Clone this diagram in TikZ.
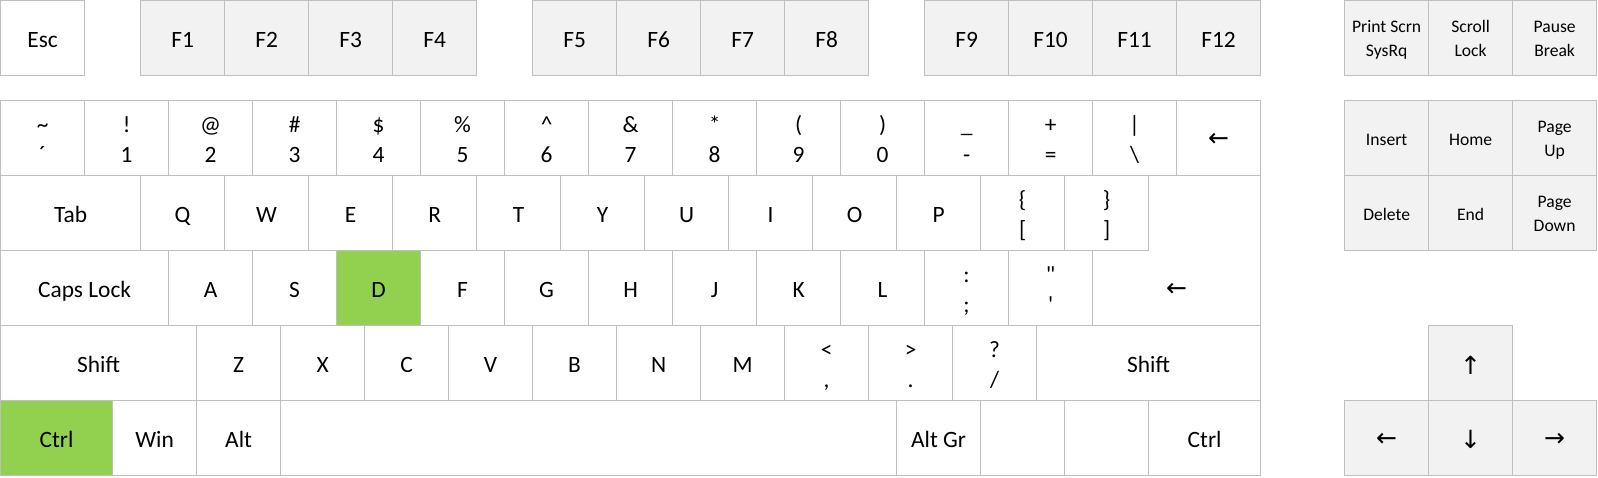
\documentclass[tikz,border=0pt]{standalone}
\usepackage{fontspec}
\setmainfont{Carlito}
\newfontfamily\arrowfont{DejaVu Sans}
\definecolor{kline}{HTML}{BFBFBF}
\definecolor{kgrey}{HTML}{F2F2F2}
\definecolor{kgreen}{HTML}{92D050}
\tikzset{
  x=0.5pt, y=-0.5pt,
  keyw/.style={draw=kline, fill=white, line width=0.6pt},
  keyg/.style={draw=kline, fill=kgrey, line width=0.6pt},
  keyn/.style={draw=kline, fill=kgreen, line width=0.6pt},
  bigtxt/.style={anchor=base, inner sep=0pt, font=\fontsize{11.7}{14}\selectfont},
  smalltxt/.style={anchor=base, inner sep=0pt, font=\fontsize{8.8}{10}\selectfont},
  arrtxt/.style={anchor=center, inner sep=0pt, font=\arrowfont\fontsize{12.5}{14}\selectfont},
}
% style, x1, y1, x2, y2, name, text
\newcommand\keyone[7]{%
  \draw[#1] (#2,#3) rectangle (#4,#5);
  \node[bigtxt] (#6) at ({(#2+#4)/2},{(#3+#5)/2+9.2}) {#7};}
% style, x1, y1, x2, y2, name, top, bottom
\newcommand\keytwo[8]{%
  \draw[#1] (#2,#3) rectangle (#4,#5);
  \node[bigtxt] (#6t) at ({(#2+#4)/2},{(#3+#5)/2-6}) {#7};
  \node[bigtxt] (#6b) at ({(#2+#4)/2},{(#3+#5)/2+24}) {#8};}
\newcommand\keysone[7]{%
  \draw[#1] (#2,#3) rectangle (#4,#5);
  \node[smalltxt] (#6) at ({(#2+#4)/2},{(#3+#5)/2+7}) {#7};}
\newcommand\keystwo[8]{%
  \draw[#1] (#2,#3) rectangle (#4,#5);
  \node[smalltxt] (#6t) at ({(#2+#4)/2},{(#3+#5)/2-5.5}) {#7};
  \node[smalltxt] (#6b) at ({(#2+#4)/2},{(#3+#5)/2+18.5}) {#8};}
\newcommand\keyarr[7]{%
  \draw[#1] (#2,#3) rectangle (#4,#5);
  \node[arrtxt] (#6) at ({(#2+#4)/2},{(#3+#5)/2+1.8}) {#7};}
\newcommand\keyblank[5]{%
  \draw[#1] (#2,#3) rectangle (#4,#5);}
\begin{document}
\begin{tikzpicture}
\useasboundingbox (-0.6,-0.6) rectangle (1597.4,476.4);
% ---- function row
\keyone{keyw}{0}{0}{84}{75}{kEsc}{Esc}
\keyone{keyg}{140}{0}{224}{75}{kFa}{F1}
\keyone{keyg}{224}{0}{308}{75}{kFb}{F2}
\keyone{keyg}{308}{0}{392}{75}{kFc}{F3}
\keyone{keyg}{392}{0}{476}{75}{kFd}{F4}
\keyone{keyg}{532}{0}{616}{75}{kFe}{F5}
\keyone{keyg}{616}{0}{700}{75}{kFf}{F6}
\keyone{keyg}{700}{0}{784}{75}{kFg}{F7}
\keyone{keyg}{784}{0}{868}{75}{kFh}{F8}
\keyone{keyg}{924}{0}{1008}{75}{kFi}{F9}
\keyone{keyg}{1008}{0}{1092}{75}{kFj}{F10}
\keyone{keyg}{1092}{0}{1176}{75}{kFk}{F11}
\keyone{keyg}{1176}{0}{1260}{75}{kFl}{F12}
\keystwo{keyg}{1344}{0}{1428}{75}{kPrt}{Print Scrn}{SysRq}
\keystwo{keyg}{1428}{0}{1512}{75}{kScr}{Scroll}{Lock}
\keystwo{keyg}{1512}{0}{1596}{75}{kPau}{Pause}{Break}
% ---- number row
\keytwo{keyw}{0}{100}{84}{175}{kTil}{\textasciitilde}{´}
\keytwo{keyw}{84}{100}{168}{175}{kOne}{!}{1}
\keytwo{keyw}{168}{100}{252}{175}{kTwo}{@}{2}
\keytwo{keyw}{252}{100}{336}{175}{kThr}{\#}{3}
\keytwo{keyw}{336}{100}{420}{175}{kFou}{\$}{4}
\keytwo{keyw}{420}{100}{504}{175}{kFiv}{\%}{5}
\keytwo{keyw}{504}{100}{588}{175}{kSix}{\textasciicircum}{6}
\keytwo{keyw}{588}{100}{672}{175}{kSev}{\&}{7}
\keytwo{keyw}{672}{100}{756}{175}{kEig}{*}{8}
\keytwo{keyw}{756}{100}{840}{175}{kNin}{(}{9}
\keytwo{keyw}{840}{100}{924}{175}{kZer}{)}{0}
\keytwo{keyw}{924}{100}{1008}{175}{kMin}{\_}{-}
\keytwo{keyw}{1008}{100}{1092}{175}{kEqu}{+}{=}
\keytwo{keyw}{1092}{100}{1176}{175}{kBsl}{\textbar}{\textbackslash}
\keyarr{keyw}{1176}{100}{1260}{175}{kBks}{←}
\keysone{keyg}{1344}{100}{1428}{175}{kIns}{Insert}
\keysone{keyg}{1428}{100}{1512}{175}{kHom}{Home}
\keystwo{keyg}{1512}{100}{1596}{175}{kPgu}{Page}{Up}
\keysone{keyg}{1344}{175}{1428}{250}{kDel}{Delete}
\keysone{keyg}{1428}{175}{1512}{250}{kEnd}{End}
\keystwo{keyg}{1512}{175}{1596}{250}{kPgd}{Page}{Down}
% ---- tab row
\keyone{keyw}{0}{175}{140}{250}{kTab}{Tab}
\keyone{keyw}{140}{175}{224}{250}{kQ}{Q}
\keyone{keyw}{224}{175}{308}{250}{kW}{W}
\keyone{keyw}{308}{175}{392}{250}{kE}{E}
\keyone{keyw}{392}{175}{476}{250}{kR}{R}
\keyone{keyw}{476}{175}{560}{250}{kT}{T}
\keyone{keyw}{560}{175}{644}{250}{kY}{Y}
\keyone{keyw}{644}{175}{728}{250}{kU}{U}
\keyone{keyw}{728}{175}{812}{250}{kI}{I}
\keyone{keyw}{812}{175}{896}{250}{kO}{O}
\keyone{keyw}{896}{175}{980}{250}{kP}{P}
\keytwo{keyw}{980}{175}{1064}{250}{kLbr}{\{}{[}
\keytwo{keyw}{1064}{175}{1148}{250}{kRbr}{\}}{]}
% ---- enter (L-shaped)
\draw[keyw] (1148,175) -- (1260,175) -- (1260,325) -- (1092,325) -- (1092,250) -- (1148,250) -- cycle;
\node[arrtxt] (kEnt) at (1176,289.3) {←};
% ---- caps row
\keyone{keyw}{0}{250}{168}{325}{kCap}{Caps Lock}
\keyone{keyw}{168}{250}{252}{325}{kA}{A}
\keyone{keyw}{252}{250}{336}{325}{kS}{S}
\keyone{keyn}{336}{250}{420}{325}{kD}{D}
\keyone{keyw}{420}{250}{504}{325}{kF}{F}
\keyone{keyw}{504}{250}{588}{325}{kG}{G}
\keyone{keyw}{588}{250}{672}{325}{kH}{H}
\keyone{keyw}{672}{250}{756}{325}{kJ}{J}
\keyone{keyw}{756}{250}{840}{325}{kK}{K}
\keyone{keyw}{840}{250}{924}{325}{kL}{L}
\keytwo{keyw}{924}{250}{1008}{325}{kSem}{:}{;}
\keytwo{keyw}{1008}{250}{1092}{325}{kQuo}{\textquotedbl}{\textquotesingle}
% ---- shift row
\keyone{keyw}{0}{325}{196}{400}{kLsh}{Shift}
\keyone{keyw}{196}{325}{280}{400}{kZ}{Z}
\keyone{keyw}{280}{325}{364}{400}{kX}{X}
\keyone{keyw}{364}{325}{448}{400}{kC}{C}
\keyone{keyw}{448}{325}{532}{400}{kV}{V}
\keyone{keyw}{532}{325}{616}{400}{kB}{B}
\keyone{keyw}{616}{325}{700}{400}{kN}{N}
\keyone{keyw}{700}{325}{784}{400}{kM}{M}
\keytwo{keyw}{784}{325}{868}{400}{kCom}{<}{,}
\keytwo{keyw}{868}{325}{952}{400}{kDot}{>}{.}
\keytwo{keyw}{952}{325}{1036}{400}{kSla}{?}{/}
\keyone{keyw}{1036}{325}{1260}{400}{kRsh}{Shift}
% ---- bottom row
\keyone{keyn}{0}{400}{112}{475}{kLct}{Ctrl}
\keyone{keyw}{112}{400}{196}{475}{kWin}{Win}
\keyone{keyw}{196}{400}{280}{475}{kAlt}{Alt}
\keyblank{keyw}{280}{400}{896}{475}
\keyone{keyw}{896}{400}{980}{475}{kAgr}{Alt Gr}
\keyblank{keyw}{980}{400}{1064}{475}
\keyblank{keyw}{1064}{400}{1148}{475}
\keyone{keyw}{1148}{400}{1260}{475}{kRct}{Ctrl}
% ---- arrow keys
\keyarr{keyg}{1428}{325}{1512}{400}{kUp}{↑}
\keyarr{keyg}{1344}{400}{1428}{475}{kLeft}{←}
\keyarr{keyg}{1428}{400}{1512}{475}{kDown}{↓}
\keyarr{keyg}{1512}{400}{1596}{475}{kRight}{→}
\end{tikzpicture}
\end{document}
